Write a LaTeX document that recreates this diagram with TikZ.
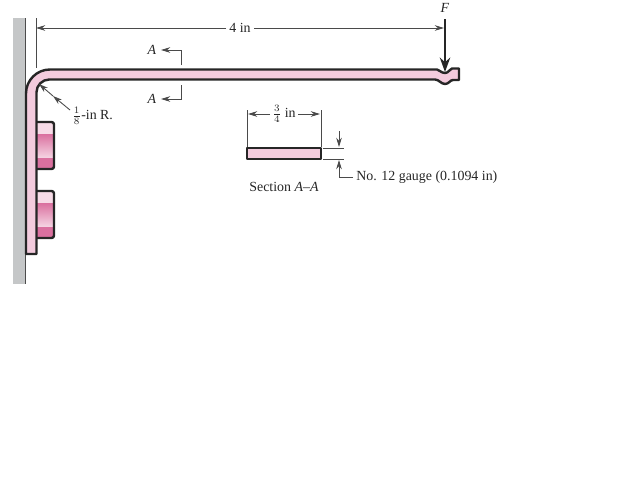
\documentclass[tikz,border=0pt]{standalone}
\usepackage{fontspec}
\setmainfont{Liberation Serif}
\usetikzlibrary{arrows.meta}
\definecolor{wallgray}{HTML}{C5C7C8}
\definecolor{platepink}{HTML}{F3CBDD}
\definecolor{boltdark}{HTML}{DA709F}
\definecolor{dimgray}{HTML}{4A4A4A}
\tikzset{>={Stealth[length=2.3mm,width=1.4mm]}}
\tikzset{
outline/.style={draw=black!85, line width=0.6mm, line join=round},
dimline/.style={draw=dimgray, line width=0.22mm},
lbl/.style={inner sep=0pt, font=\fontsize{9.9}{12}\selectfont, text=black!85}
}

\begin{document}
\begin{tikzpicture}[x=0.25mm, y=-0.25mm]
\useasboundingbox (0,0) rectangle (640,480);
% wall
\fill[wallgray] (13,18) rectangle (25.5,284);
\draw[black!70, line width=0.2mm] (25.5,18) -- (25.5,284);
% bolts
\foreach \y in {122,191} {
\fill[platepink!70] (36,\y) rectangle (54,\y+12);
\shade[top color=boltdark, bottom color=platepink!80] (36,\y+12) rectangle (54,\y+36);
\fill[boltdark] (36,\y+36) rectangle (54,\y+47);
\draw[outline, rounded corners=0.6mm] (36,\y) -- (54,\y) -- (54,\y+47) -- (36,\y+47);
}
% bracket
\draw[outline, fill=platepink] (36.5,254) -- (26,254) [rounded corners=6mm] -- (26,69.5) -- (100,69.5) [sharp corners] -- (437,69.5)
 .. controls (440,70) and (441,73) .. (445,73) .. controls (449,73) and (449,69) .. (452,68.5) -- (459,68.5)
 -- (459,80) -- (453,80) .. controls (450,80) and (449,84) .. (445,84) .. controls (441,84) and (439,79.5) .. (435,79.5)
 -- (100,79.5) [rounded corners=3.2mm] -- (36.5,79.5) -- (36.5,140) [sharp corners] -- cycle;
% 4 in dimension
\coordinate (wallmark) at (36,28);
\coordinate (loadmark) at (444,28);
\draw[dimline] (36,18) -- (36,68);
\node[lbl] (span) at (240,28) {4 in};
\draw[dimline, ->] (span) ++(-14,0) -- (wallmark);
\draw[dimline, ->] (span) ++(14,0) -- (loadmark);
% load
\node[lbl] (force) at (445,8) {\textit{F}};
\coordinate (loadtop) at (445,19);
\coordinate (loadtip) at (445,72);
\draw[-{Stealth[length=3.6mm,width=2.6mm]}, line width=0.65mm, black!85] (loadtop) -- (loadtip);
% section marks
\node[lbl] (secA) at (152,50) {\textit{A}};
\node[lbl] (secB) at (152,99) {\textit{A}};
\draw[dimline, ->] (181,65) -- (181,50) -- (161,50);
\draw[dimline, ->] (181,85) -- (181,99) -- (161,99);
% radius
\node[lbl, anchor=west] (radius) at (72,116) {$\frac{1}{8}$-in R.};
\coordinate (radtip) at (39,84);
\coordinate (radtail) at (70,110);
\draw[dimline, ->] (radtail) -- (53,96);
\draw[dimline, ->] (53,96) -- (radtip);
% section view
\draw[outline, fill=platepink] (247,148) rectangle (321,159);
\draw[dimline] (247,110) -- (247,147);
\draw[dimline] (321,110) -- (321,147);
\node[lbl] (width) at (284,114) {$\frac{3}{4}$ in};
\draw[dimline, ->] (width) ++(-14,0) -- (248,114);
\draw[dimline, ->] (width) ++(14,0) -- (320,114);
\draw[dimline] (323,148) -- (344,148);
\draw[dimline] (323,159) -- (344,159);
\draw[dimline, ->] (339,131) -- (339,147);
\node[lbl, anchor=west] (gauge) at (356,177) {No. 12 gauge (0.1094 in)};
\draw[dimline, ->] (gauge.west) ++(-3,0) -- (339,177) -- (339,160);
\node[lbl] (section) at (284,187) {Section \textit{A}--\textit{A}};
\end{tikzpicture}
\end{document}
